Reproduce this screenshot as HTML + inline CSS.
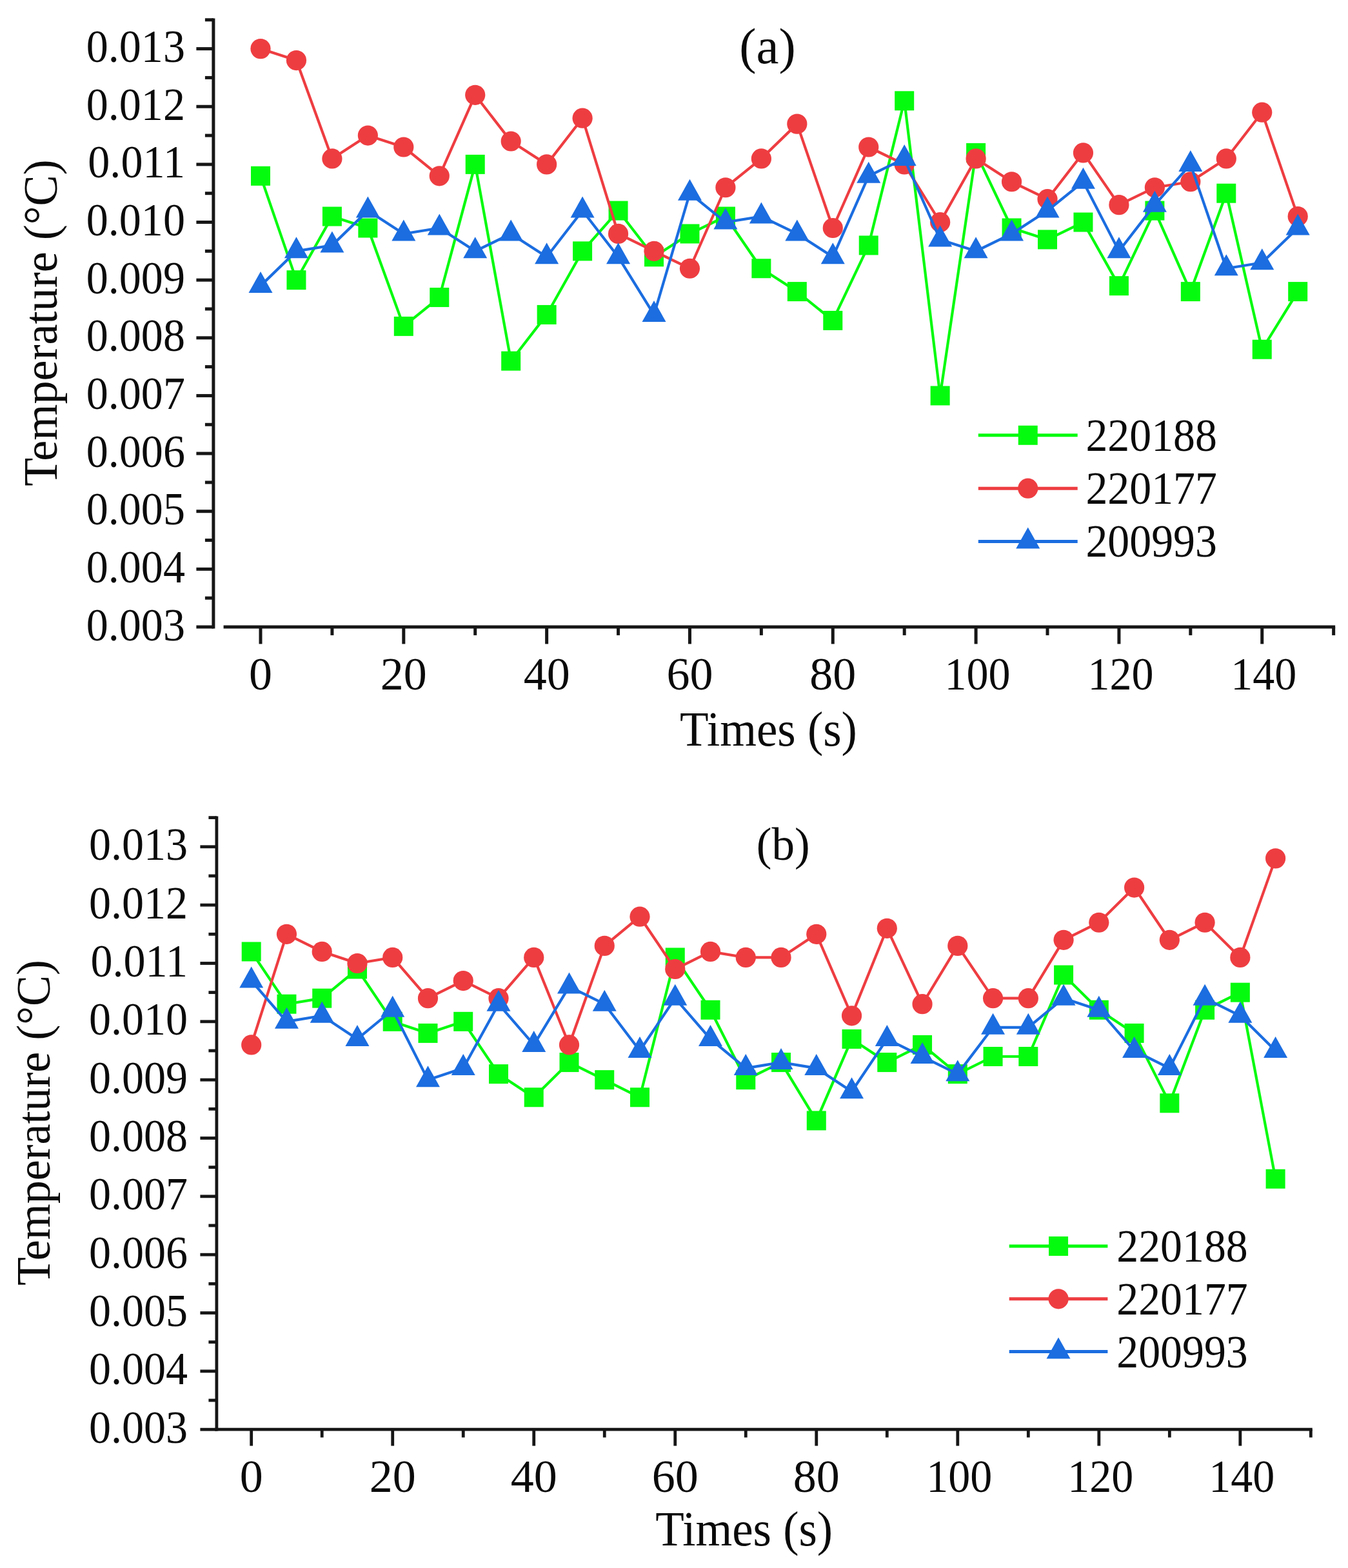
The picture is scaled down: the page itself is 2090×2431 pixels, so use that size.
<!DOCTYPE html>
<html><head><meta charset="utf-8"><title>Temperature vs Times</title>
<style>
html,body{margin:0;padding:0;background:#fff;}
body{width:2090px;height:2431px;overflow:hidden;}
svg{display:block;}

.t{font-family:'Liberation Serif', 'Times New Roman', serif;fill:#0a0a0a;}
</style></head>
<body>
<div id="w">
<svg width="2090" height="2431" viewBox="0 0 2090 2431">
<rect width="100%" height="100%" fill="#ffffff"/>
<g stroke="#161616" stroke-width="5.0" fill="none" stroke-linecap="butt">
<line x1="330.9" y1="28.5" x2="330.9" y2="974.4"/>
<line x1="346.6" y1="971.9" x2="2070.15" y2="971.9"/>
<line x1="304.4" y1="972" x2="330.9" y2="972"/>
<line x1="317.9" y1="927.18" x2="330.9" y2="927.18"/>
<line x1="304.4" y1="882.36" x2="330.9" y2="882.36"/>
<line x1="317.9" y1="837.54" x2="330.9" y2="837.54"/>
<line x1="304.4" y1="792.72" x2="330.9" y2="792.72"/>
<line x1="317.9" y1="747.9" x2="330.9" y2="747.9"/>
<line x1="304.4" y1="703.08" x2="330.9" y2="703.08"/>
<line x1="317.9" y1="658.26" x2="330.9" y2="658.26"/>
<line x1="304.4" y1="613.44" x2="330.9" y2="613.44"/>
<line x1="317.9" y1="568.62" x2="330.9" y2="568.62"/>
<line x1="304.4" y1="523.8" x2="330.9" y2="523.8"/>
<line x1="317.9" y1="478.98" x2="330.9" y2="478.98"/>
<line x1="304.4" y1="434.16" x2="330.9" y2="434.16"/>
<line x1="317.9" y1="389.34" x2="330.9" y2="389.34"/>
<line x1="304.4" y1="344.52" x2="330.9" y2="344.52"/>
<line x1="317.9" y1="299.7" x2="330.9" y2="299.7"/>
<line x1="304.4" y1="254.88" x2="330.9" y2="254.88"/>
<line x1="317.9" y1="210.06" x2="330.9" y2="210.06"/>
<line x1="304.4" y1="165.24" x2="330.9" y2="165.24"/>
<line x1="317.9" y1="120.42" x2="330.9" y2="120.42"/>
<line x1="304.4" y1="75.6" x2="330.9" y2="75.6"/>
<line x1="317.9" y1="30.78" x2="330.9" y2="30.78"/>
<line x1="404" y1="971.9" x2="404" y2="998.4"/>
<line x1="625.82" y1="971.9" x2="625.82" y2="998.4"/>
<line x1="847.64" y1="971.9" x2="847.64" y2="998.4"/>
<line x1="1069.46" y1="971.9" x2="1069.46" y2="998.4"/>
<line x1="1291.28" y1="971.9" x2="1291.28" y2="998.4"/>
<line x1="1513.1" y1="971.9" x2="1513.1" y2="998.4"/>
<line x1="1734.92" y1="971.9" x2="1734.92" y2="998.4"/>
<line x1="1956.74" y1="971.9" x2="1956.74" y2="998.4"/>
<line x1="514.91" y1="971.9" x2="514.91" y2="984.9"/>
<line x1="736.73" y1="971.9" x2="736.73" y2="984.9"/>
<line x1="958.55" y1="971.9" x2="958.55" y2="984.9"/>
<line x1="1180.37" y1="971.9" x2="1180.37" y2="984.9"/>
<line x1="1402.19" y1="971.9" x2="1402.19" y2="984.9"/>
<line x1="1624.01" y1="971.9" x2="1624.01" y2="984.9"/>
<line x1="1845.83" y1="971.9" x2="1845.83" y2="984.9"/>
<line x1="2067.65" y1="971.9" x2="2067.65" y2="984.9"/>
</g>
<polyline points="404,272.81 459.45,434.16 514.91,335.56 570.37,353.48 625.82,505.87 681.27,461.05 736.73,254.88 792.18,559.66 847.64,487.94 903.1,389.34 958.55,326.59 1014,398.3 1069.46,362.45 1124.91,335.56 1180.37,416.23 1235.82,452.09 1291.28,496.91 1346.73,380.38 1402.19,156.28 1457.64,613.44 1513.1,236.95 1568.55,353.48 1624.01,371.41 1679.46,344.52 1734.92,443.12 1790.38,326.59 1845.83,452.09 1901.28,299.7 1956.74,541.73 2012.19,452.09" fill="none" stroke="#05fb0e" stroke-width="4.2" stroke-linejoin="round"/>
<rect x="389" y="257.81" width="30" height="30" fill="#05fb0e"/>
<rect x="444.45" y="419.16" width="30" height="30" fill="#05fb0e"/>
<rect x="499.91" y="320.56" width="30" height="30" fill="#05fb0e"/>
<rect x="555.37" y="338.48" width="30" height="30" fill="#05fb0e"/>
<rect x="610.82" y="490.87" width="30" height="30" fill="#05fb0e"/>
<rect x="666.27" y="446.05" width="30" height="30" fill="#05fb0e"/>
<rect x="721.73" y="239.88" width="30" height="30" fill="#05fb0e"/>
<rect x="777.18" y="544.66" width="30" height="30" fill="#05fb0e"/>
<rect x="832.64" y="472.94" width="30" height="30" fill="#05fb0e"/>
<rect x="888.1" y="374.34" width="30" height="30" fill="#05fb0e"/>
<rect x="943.55" y="311.59" width="30" height="30" fill="#05fb0e"/>
<rect x="999" y="383.3" width="30" height="30" fill="#05fb0e"/>
<rect x="1054.46" y="347.45" width="30" height="30" fill="#05fb0e"/>
<rect x="1109.91" y="320.56" width="30" height="30" fill="#05fb0e"/>
<rect x="1165.37" y="401.23" width="30" height="30" fill="#05fb0e"/>
<rect x="1220.82" y="437.09" width="30" height="30" fill="#05fb0e"/>
<rect x="1276.28" y="481.91" width="30" height="30" fill="#05fb0e"/>
<rect x="1331.73" y="365.38" width="30" height="30" fill="#05fb0e"/>
<rect x="1387.19" y="141.28" width="30" height="30" fill="#05fb0e"/>
<rect x="1442.64" y="598.44" width="30" height="30" fill="#05fb0e"/>
<rect x="1498.1" y="221.95" width="30" height="30" fill="#05fb0e"/>
<rect x="1553.55" y="338.48" width="30" height="30" fill="#05fb0e"/>
<rect x="1609.01" y="356.41" width="30" height="30" fill="#05fb0e"/>
<rect x="1664.46" y="329.52" width="30" height="30" fill="#05fb0e"/>
<rect x="1719.92" y="428.12" width="30" height="30" fill="#05fb0e"/>
<rect x="1775.38" y="311.59" width="30" height="30" fill="#05fb0e"/>
<rect x="1830.83" y="437.09" width="30" height="30" fill="#05fb0e"/>
<rect x="1886.28" y="284.7" width="30" height="30" fill="#05fb0e"/>
<rect x="1941.74" y="526.73" width="30" height="30" fill="#05fb0e"/>
<rect x="1997.19" y="437.09" width="30" height="30" fill="#05fb0e"/>
<polyline points="404,75.6 459.45,93.53 514.91,245.92 570.37,210.06 625.82,227.99 681.27,272.81 736.73,147.31 792.18,219.02 847.64,254.88 903.1,183.17 958.55,362.45 1014,389.34 1069.46,416.23 1124.91,290.74 1180.37,245.92 1235.82,192.13 1291.28,353.48 1346.73,227.99 1402.19,254.88 1457.64,344.52 1513.1,245.92 1568.55,281.77 1624.01,308.66 1679.46,236.95 1734.92,317.63 1790.38,290.74 1845.83,281.77 1901.28,245.92 1956.74,174.2 2012.19,335.56" fill="none" stroke="#ee3d41" stroke-width="4.2" stroke-linejoin="round"/>
<circle cx="404" cy="75.6" r="15.6" fill="#ee3d41"/>
<circle cx="459.45" cy="93.53" r="15.6" fill="#ee3d41"/>
<circle cx="514.91" cy="245.92" r="15.6" fill="#ee3d41"/>
<circle cx="570.37" cy="210.06" r="15.6" fill="#ee3d41"/>
<circle cx="625.82" cy="227.99" r="15.6" fill="#ee3d41"/>
<circle cx="681.27" cy="272.81" r="15.6" fill="#ee3d41"/>
<circle cx="736.73" cy="147.31" r="15.6" fill="#ee3d41"/>
<circle cx="792.18" cy="219.02" r="15.6" fill="#ee3d41"/>
<circle cx="847.64" cy="254.88" r="15.6" fill="#ee3d41"/>
<circle cx="903.1" cy="183.17" r="15.6" fill="#ee3d41"/>
<circle cx="958.55" cy="362.45" r="15.6" fill="#ee3d41"/>
<circle cx="1014" cy="389.34" r="15.6" fill="#ee3d41"/>
<circle cx="1069.46" cy="416.23" r="15.6" fill="#ee3d41"/>
<circle cx="1124.91" cy="290.74" r="15.6" fill="#ee3d41"/>
<circle cx="1180.37" cy="245.92" r="15.6" fill="#ee3d41"/>
<circle cx="1235.82" cy="192.13" r="15.6" fill="#ee3d41"/>
<circle cx="1291.28" cy="353.48" r="15.6" fill="#ee3d41"/>
<circle cx="1346.73" cy="227.99" r="15.6" fill="#ee3d41"/>
<circle cx="1402.19" cy="254.88" r="15.6" fill="#ee3d41"/>
<circle cx="1457.64" cy="344.52" r="15.6" fill="#ee3d41"/>
<circle cx="1513.1" cy="245.92" r="15.6" fill="#ee3d41"/>
<circle cx="1568.55" cy="281.77" r="15.6" fill="#ee3d41"/>
<circle cx="1624.01" cy="308.66" r="15.6" fill="#ee3d41"/>
<circle cx="1679.46" cy="236.95" r="15.6" fill="#ee3d41"/>
<circle cx="1734.92" cy="317.63" r="15.6" fill="#ee3d41"/>
<circle cx="1790.38" cy="290.74" r="15.6" fill="#ee3d41"/>
<circle cx="1845.83" cy="281.77" r="15.6" fill="#ee3d41"/>
<circle cx="1901.28" cy="245.92" r="15.6" fill="#ee3d41"/>
<circle cx="1956.74" cy="174.2" r="15.6" fill="#ee3d41"/>
<circle cx="2012.19" cy="335.56" r="15.6" fill="#ee3d41"/>
<polyline points="404,443.12 459.45,389.34 514.91,380.38 570.37,326.59 625.82,362.45 681.27,353.48 736.73,389.34 792.18,362.45 847.64,398.3 903.1,326.59 958.55,398.3 1014,487.94 1069.46,299.7 1124.91,344.52 1180.37,335.56 1235.82,362.45 1291.28,398.3 1346.73,272.81 1402.19,245.92 1457.64,371.41 1513.1,389.34 1568.55,362.45 1624.01,326.59 1679.46,281.77 1734.92,389.34 1790.38,317.63 1845.83,254.88 1901.28,416.23 1956.74,407.27 2012.19,353.48" fill="none" stroke="#1b6de0" stroke-width="4.2" stroke-linejoin="round"/>
<polygon points="404,421.12 422.5,454.12 385.5,454.12" fill="#1b6de0"/>
<polygon points="459.45,367.34 477.95,400.34 440.95,400.34" fill="#1b6de0"/>
<polygon points="514.91,358.38 533.41,391.38 496.41,391.38" fill="#1b6de0"/>
<polygon points="570.37,304.59 588.87,337.59 551.87,337.59" fill="#1b6de0"/>
<polygon points="625.82,340.45 644.32,373.45 607.32,373.45" fill="#1b6de0"/>
<polygon points="681.27,331.48 699.77,364.48 662.77,364.48" fill="#1b6de0"/>
<polygon points="736.73,367.34 755.23,400.34 718.23,400.34" fill="#1b6de0"/>
<polygon points="792.18,340.45 810.68,373.45 773.68,373.45" fill="#1b6de0"/>
<polygon points="847.64,376.3 866.14,409.3 829.14,409.3" fill="#1b6de0"/>
<polygon points="903.1,304.59 921.6,337.59 884.6,337.59" fill="#1b6de0"/>
<polygon points="958.55,376.3 977.05,409.3 940.05,409.3" fill="#1b6de0"/>
<polygon points="1014,465.94 1032.51,498.94 995.5,498.94" fill="#1b6de0"/>
<polygon points="1069.46,277.7 1087.96,310.7 1050.96,310.7" fill="#1b6de0"/>
<polygon points="1124.91,322.52 1143.41,355.52 1106.41,355.52" fill="#1b6de0"/>
<polygon points="1180.37,313.56 1198.87,346.56 1161.87,346.56" fill="#1b6de0"/>
<polygon points="1235.82,340.45 1254.32,373.45 1217.32,373.45" fill="#1b6de0"/>
<polygon points="1291.28,376.3 1309.78,409.3 1272.78,409.3" fill="#1b6de0"/>
<polygon points="1346.73,250.81 1365.23,283.81 1328.23,283.81" fill="#1b6de0"/>
<polygon points="1402.19,223.92 1420.69,256.92 1383.69,256.92" fill="#1b6de0"/>
<polygon points="1457.64,349.41 1476.14,382.41 1439.14,382.41" fill="#1b6de0"/>
<polygon points="1513.1,367.34 1531.6,400.34 1494.6,400.34" fill="#1b6de0"/>
<polygon points="1568.55,340.45 1587.05,373.45 1550.05,373.45" fill="#1b6de0"/>
<polygon points="1624.01,304.59 1642.51,337.59 1605.51,337.59" fill="#1b6de0"/>
<polygon points="1679.46,259.77 1697.96,292.77 1660.96,292.77" fill="#1b6de0"/>
<polygon points="1734.92,367.34 1753.42,400.34 1716.42,400.34" fill="#1b6de0"/>
<polygon points="1790.38,295.63 1808.88,328.63 1771.88,328.63" fill="#1b6de0"/>
<polygon points="1845.83,232.88 1864.33,265.88 1827.33,265.88" fill="#1b6de0"/>
<polygon points="1901.28,394.23 1919.78,427.23 1882.78,427.23" fill="#1b6de0"/>
<polygon points="1956.74,385.27 1975.24,418.27 1938.24,418.27" fill="#1b6de0"/>
<polygon points="2012.19,331.48 2030.69,364.48 1993.69,364.48" fill="#1b6de0"/>
<line x1="1516.8" y1="674.8" x2="1670.7" y2="674.8" stroke="#05fb0e" stroke-width="5"/>
<rect x="1578.75" y="659.8" width="30" height="30" fill="#05fb0e"/>
<text transform="translate(1683.4 698.8) scale(0.942 1)" class="t" font-size="72">220188</text>
<line x1="1516.8" y1="757.2" x2="1670.7" y2="757.2" stroke="#ee3d41" stroke-width="5"/>
<circle cx="1593.75" cy="757.2" r="15.6" fill="#ee3d41"/>
<text transform="translate(1683.4 781.2) scale(0.942 1)" class="t" font-size="72">220177</text>
<line x1="1516.8" y1="839.4" x2="1670.7" y2="839.4" stroke="#1b6de0" stroke-width="5"/>
<polygon points="1593.75,817.4 1612.25,850.4 1575.25,850.4" fill="#1b6de0"/>
<text transform="translate(1683.4 863.4) scale(0.942 1)" class="t" font-size="72">200993</text>
<text transform="translate(286.9 992.6) scale(0.945 1)" class="t" font-size="72" text-anchor="end">0.003</text>
<text transform="translate(286.9 902.96) scale(0.945 1)" class="t" font-size="72" text-anchor="end">0.004</text>
<text transform="translate(286.9 813.32) scale(0.945 1)" class="t" font-size="72" text-anchor="end">0.005</text>
<text transform="translate(286.9 723.68) scale(0.945 1)" class="t" font-size="72" text-anchor="end">0.006</text>
<text transform="translate(286.9 634.04) scale(0.945 1)" class="t" font-size="72" text-anchor="end">0.007</text>
<text transform="translate(286.9 544.4) scale(0.945 1)" class="t" font-size="72" text-anchor="end">0.008</text>
<text transform="translate(286.9 454.76) scale(0.945 1)" class="t" font-size="72" text-anchor="end">0.009</text>
<text transform="translate(286.9 365.12) scale(0.945 1)" class="t" font-size="72" text-anchor="end">0.010</text>
<text transform="translate(286.9 275.48) scale(0.945 1)" class="t" font-size="72" text-anchor="end">0.011</text>
<text transform="translate(286.9 185.84) scale(0.945 1)" class="t" font-size="72" text-anchor="end">0.012</text>
<text transform="translate(286.9 96.2) scale(0.945 1)" class="t" font-size="72" text-anchor="end">0.013</text>
<text transform="translate(404 1068.9) scale(1.0 1)" class="t" font-size="72" text-anchor="middle">0</text>
<text transform="translate(625.82 1068.9) scale(1.0 1)" class="t" font-size="72" text-anchor="middle">20</text>
<text transform="translate(847.64 1068.9) scale(1.0 1)" class="t" font-size="72" text-anchor="middle">40</text>
<text transform="translate(1069.46 1068.9) scale(1.0 1)" class="t" font-size="72" text-anchor="middle">60</text>
<text transform="translate(1291.28 1068.9) scale(1.0 1)" class="t" font-size="72" text-anchor="middle">80</text>
<text transform="translate(1515.6 1068.9) scale(0.945 1)" class="t" font-size="72" text-anchor="middle">100</text>
<text transform="translate(1737.42 1068.9) scale(0.945 1)" class="t" font-size="72" text-anchor="middle">120</text>
<text transform="translate(1959.24 1068.9) scale(0.945 1)" class="t" font-size="72" text-anchor="middle">140</text>
<g stroke="#161616" stroke-width="4.8" fill="none" stroke-linecap="butt">
<line x1="335.9" y1="1265.5" x2="335.9" y2="2218.5"/>
<line x1="333.5" y1="2216.1" x2="2034.75" y2="2216.1"/>
<line x1="310.4" y1="2216.2" x2="335.9" y2="2216.2"/>
<line x1="323.4" y1="2171.03" x2="335.9" y2="2171.03"/>
<line x1="310.4" y1="2125.86" x2="335.9" y2="2125.86"/>
<line x1="323.4" y1="2080.69" x2="335.9" y2="2080.69"/>
<line x1="310.4" y1="2035.52" x2="335.9" y2="2035.52"/>
<line x1="323.4" y1="1990.35" x2="335.9" y2="1990.35"/>
<line x1="310.4" y1="1945.18" x2="335.9" y2="1945.18"/>
<line x1="323.4" y1="1900.01" x2="335.9" y2="1900.01"/>
<line x1="310.4" y1="1854.84" x2="335.9" y2="1854.84"/>
<line x1="323.4" y1="1809.67" x2="335.9" y2="1809.67"/>
<line x1="310.4" y1="1764.5" x2="335.9" y2="1764.5"/>
<line x1="323.4" y1="1719.33" x2="335.9" y2="1719.33"/>
<line x1="310.4" y1="1674.16" x2="335.9" y2="1674.16"/>
<line x1="323.4" y1="1628.99" x2="335.9" y2="1628.99"/>
<line x1="310.4" y1="1583.82" x2="335.9" y2="1583.82"/>
<line x1="323.4" y1="1538.65" x2="335.9" y2="1538.65"/>
<line x1="310.4" y1="1493.48" x2="335.9" y2="1493.48"/>
<line x1="323.4" y1="1448.31" x2="335.9" y2="1448.31"/>
<line x1="310.4" y1="1403.14" x2="335.9" y2="1403.14"/>
<line x1="323.4" y1="1357.97" x2="335.9" y2="1357.97"/>
<line x1="310.4" y1="1312.8" x2="335.9" y2="1312.8"/>
<line x1="323.4" y1="1267.63" x2="335.9" y2="1267.63"/>
<line x1="389.7" y1="2216.1" x2="389.7" y2="2241.6"/>
<line x1="608.72" y1="2216.1" x2="608.72" y2="2241.6"/>
<line x1="827.74" y1="2216.1" x2="827.74" y2="2241.6"/>
<line x1="1046.76" y1="2216.1" x2="1046.76" y2="2241.6"/>
<line x1="1265.78" y1="2216.1" x2="1265.78" y2="2241.6"/>
<line x1="1484.8" y1="2216.1" x2="1484.8" y2="2241.6"/>
<line x1="1703.82" y1="2216.1" x2="1703.82" y2="2241.6"/>
<line x1="1922.84" y1="2216.1" x2="1922.84" y2="2241.6"/>
<line x1="499.21" y1="2216.1" x2="499.21" y2="2228.6"/>
<line x1="718.23" y1="2216.1" x2="718.23" y2="2228.6"/>
<line x1="937.25" y1="2216.1" x2="937.25" y2="2228.6"/>
<line x1="1156.27" y1="2216.1" x2="1156.27" y2="2228.6"/>
<line x1="1375.29" y1="2216.1" x2="1375.29" y2="2228.6"/>
<line x1="1594.31" y1="2216.1" x2="1594.31" y2="2228.6"/>
<line x1="1813.33" y1="2216.1" x2="1813.33" y2="2228.6"/>
<line x1="2032.35" y1="2216.1" x2="2032.35" y2="2228.6"/>
</g>
<polyline points="389.7,1475.41 444.45,1556.72 499.21,1547.68 553.97,1502.51 608.72,1583.82 663.48,1601.89 718.23,1583.82 772.99,1665.13 827.74,1701.26 882.5,1647.06 937.25,1674.16 992.01,1701.26 1046.76,1484.45 1101.52,1565.75 1156.27,1674.16 1211.03,1647.06 1265.78,1737.4 1320.54,1610.92 1375.29,1647.06 1430.05,1619.96 1484.8,1665.13 1539.56,1638.02 1594.31,1638.02 1649.07,1511.55 1703.82,1565.75 1758.58,1601.89 1813.33,1710.3 1868.09,1565.75 1922.84,1538.65 1977.6,1827.74" fill="none" stroke="#05fb0e" stroke-width="4.2" stroke-linejoin="round"/>
<rect x="374.7" y="1460.41" width="30" height="30" fill="#05fb0e"/>
<rect x="429.45" y="1541.72" width="30" height="30" fill="#05fb0e"/>
<rect x="484.21" y="1532.68" width="30" height="30" fill="#05fb0e"/>
<rect x="538.97" y="1487.51" width="30" height="30" fill="#05fb0e"/>
<rect x="593.72" y="1568.82" width="30" height="30" fill="#05fb0e"/>
<rect x="648.48" y="1586.89" width="30" height="30" fill="#05fb0e"/>
<rect x="703.23" y="1568.82" width="30" height="30" fill="#05fb0e"/>
<rect x="757.99" y="1650.13" width="30" height="30" fill="#05fb0e"/>
<rect x="812.74" y="1686.26" width="30" height="30" fill="#05fb0e"/>
<rect x="867.5" y="1632.06" width="30" height="30" fill="#05fb0e"/>
<rect x="922.25" y="1659.16" width="30" height="30" fill="#05fb0e"/>
<rect x="977.01" y="1686.26" width="30" height="30" fill="#05fb0e"/>
<rect x="1031.76" y="1469.45" width="30" height="30" fill="#05fb0e"/>
<rect x="1086.52" y="1550.75" width="30" height="30" fill="#05fb0e"/>
<rect x="1141.27" y="1659.16" width="30" height="30" fill="#05fb0e"/>
<rect x="1196.03" y="1632.06" width="30" height="30" fill="#05fb0e"/>
<rect x="1250.78" y="1722.4" width="30" height="30" fill="#05fb0e"/>
<rect x="1305.54" y="1595.92" width="30" height="30" fill="#05fb0e"/>
<rect x="1360.29" y="1632.06" width="30" height="30" fill="#05fb0e"/>
<rect x="1415.05" y="1604.96" width="30" height="30" fill="#05fb0e"/>
<rect x="1469.8" y="1650.13" width="30" height="30" fill="#05fb0e"/>
<rect x="1524.56" y="1623.02" width="30" height="30" fill="#05fb0e"/>
<rect x="1579.31" y="1623.02" width="30" height="30" fill="#05fb0e"/>
<rect x="1634.07" y="1496.55" width="30" height="30" fill="#05fb0e"/>
<rect x="1688.82" y="1550.75" width="30" height="30" fill="#05fb0e"/>
<rect x="1743.58" y="1586.89" width="30" height="30" fill="#05fb0e"/>
<rect x="1798.33" y="1695.3" width="30" height="30" fill="#05fb0e"/>
<rect x="1853.09" y="1550.75" width="30" height="30" fill="#05fb0e"/>
<rect x="1907.84" y="1523.65" width="30" height="30" fill="#05fb0e"/>
<rect x="1962.6" y="1812.74" width="30" height="30" fill="#05fb0e"/>
<polyline points="389.7,1619.96 444.45,1448.31 499.21,1475.41 553.97,1493.48 608.72,1484.45 663.48,1547.68 718.23,1520.58 772.99,1547.68 827.74,1484.45 882.5,1619.96 937.25,1466.38 992.01,1421.21 1046.76,1502.51 1101.52,1475.41 1156.27,1484.45 1211.03,1484.45 1265.78,1448.31 1320.54,1574.79 1375.29,1439.28 1430.05,1556.72 1484.8,1466.38 1539.56,1547.68 1594.31,1547.68 1649.07,1457.34 1703.82,1430.24 1758.58,1376.04 1813.33,1457.34 1868.09,1430.24 1922.84,1484.45 1977.6,1330.87" fill="none" stroke="#ee3d41" stroke-width="4.2" stroke-linejoin="round"/>
<circle cx="389.7" cy="1619.96" r="15.6" fill="#ee3d41"/>
<circle cx="444.45" cy="1448.31" r="15.6" fill="#ee3d41"/>
<circle cx="499.21" cy="1475.41" r="15.6" fill="#ee3d41"/>
<circle cx="553.97" cy="1493.48" r="15.6" fill="#ee3d41"/>
<circle cx="608.72" cy="1484.45" r="15.6" fill="#ee3d41"/>
<circle cx="663.48" cy="1547.68" r="15.6" fill="#ee3d41"/>
<circle cx="718.23" cy="1520.58" r="15.6" fill="#ee3d41"/>
<circle cx="772.99" cy="1547.68" r="15.6" fill="#ee3d41"/>
<circle cx="827.74" cy="1484.45" r="15.6" fill="#ee3d41"/>
<circle cx="882.5" cy="1619.96" r="15.6" fill="#ee3d41"/>
<circle cx="937.25" cy="1466.38" r="15.6" fill="#ee3d41"/>
<circle cx="992.01" cy="1421.21" r="15.6" fill="#ee3d41"/>
<circle cx="1046.76" cy="1502.51" r="15.6" fill="#ee3d41"/>
<circle cx="1101.52" cy="1475.41" r="15.6" fill="#ee3d41"/>
<circle cx="1156.27" cy="1484.45" r="15.6" fill="#ee3d41"/>
<circle cx="1211.03" cy="1484.45" r="15.6" fill="#ee3d41"/>
<circle cx="1265.78" cy="1448.31" r="15.6" fill="#ee3d41"/>
<circle cx="1320.54" cy="1574.79" r="15.6" fill="#ee3d41"/>
<circle cx="1375.29" cy="1439.28" r="15.6" fill="#ee3d41"/>
<circle cx="1430.05" cy="1556.72" r="15.6" fill="#ee3d41"/>
<circle cx="1484.8" cy="1466.38" r="15.6" fill="#ee3d41"/>
<circle cx="1539.56" cy="1547.68" r="15.6" fill="#ee3d41"/>
<circle cx="1594.31" cy="1547.68" r="15.6" fill="#ee3d41"/>
<circle cx="1649.07" cy="1457.34" r="15.6" fill="#ee3d41"/>
<circle cx="1703.82" cy="1430.24" r="15.6" fill="#ee3d41"/>
<circle cx="1758.58" cy="1376.04" r="15.6" fill="#ee3d41"/>
<circle cx="1813.33" cy="1457.34" r="15.6" fill="#ee3d41"/>
<circle cx="1868.09" cy="1430.24" r="15.6" fill="#ee3d41"/>
<circle cx="1922.84" cy="1484.45" r="15.6" fill="#ee3d41"/>
<circle cx="1977.6" cy="1330.87" r="15.6" fill="#ee3d41"/>
<polyline points="389.7,1520.58 444.45,1583.82 499.21,1574.79 553.97,1610.92 608.72,1565.75 663.48,1674.16 718.23,1656.09 772.99,1556.72 827.74,1619.96 882.5,1529.62 937.25,1556.72 992.01,1628.99 1046.76,1547.68 1101.52,1610.92 1156.27,1656.09 1211.03,1647.06 1265.78,1656.09 1320.54,1692.23 1375.29,1610.92 1430.05,1638.02 1484.8,1665.13 1539.56,1592.85 1594.31,1592.85 1649.07,1547.68 1703.82,1565.75 1758.58,1628.99 1813.33,1656.09 1868.09,1547.68 1922.84,1574.79 1977.6,1628.99" fill="none" stroke="#1b6de0" stroke-width="4.2" stroke-linejoin="round"/>
<polygon points="389.7,1498.58 408.2,1531.58 371.2,1531.58" fill="#1b6de0"/>
<polygon points="444.45,1561.82 462.95,1594.82 425.95,1594.82" fill="#1b6de0"/>
<polygon points="499.21,1552.79 517.71,1585.79 480.71,1585.79" fill="#1b6de0"/>
<polygon points="553.97,1588.92 572.47,1621.92 535.47,1621.92" fill="#1b6de0"/>
<polygon points="608.72,1543.75 627.22,1576.75 590.22,1576.75" fill="#1b6de0"/>
<polygon points="663.48,1652.16 681.98,1685.16 644.98,1685.16" fill="#1b6de0"/>
<polygon points="718.23,1634.09 736.73,1667.09 699.73,1667.09" fill="#1b6de0"/>
<polygon points="772.99,1534.72 791.49,1567.72 754.49,1567.72" fill="#1b6de0"/>
<polygon points="827.74,1597.96 846.24,1630.96 809.24,1630.96" fill="#1b6de0"/>
<polygon points="882.5,1507.62 901,1540.62 864,1540.62" fill="#1b6de0"/>
<polygon points="937.25,1534.72 955.75,1567.72 918.75,1567.72" fill="#1b6de0"/>
<polygon points="992.01,1606.99 1010.51,1639.99 973.51,1639.99" fill="#1b6de0"/>
<polygon points="1046.76,1525.68 1065.26,1558.68 1028.26,1558.68" fill="#1b6de0"/>
<polygon points="1101.52,1588.92 1120.02,1621.92 1083.02,1621.92" fill="#1b6de0"/>
<polygon points="1156.27,1634.09 1174.77,1667.09 1137.77,1667.09" fill="#1b6de0"/>
<polygon points="1211.03,1625.06 1229.53,1658.06 1192.53,1658.06" fill="#1b6de0"/>
<polygon points="1265.78,1634.09 1284.28,1667.09 1247.28,1667.09" fill="#1b6de0"/>
<polygon points="1320.54,1670.23 1339.04,1703.23 1302.04,1703.23" fill="#1b6de0"/>
<polygon points="1375.29,1588.92 1393.79,1621.92 1356.79,1621.92" fill="#1b6de0"/>
<polygon points="1430.05,1616.02 1448.55,1649.02 1411.55,1649.02" fill="#1b6de0"/>
<polygon points="1484.8,1643.13 1503.3,1676.13 1466.3,1676.13" fill="#1b6de0"/>
<polygon points="1539.56,1570.85 1558.06,1603.85 1521.06,1603.85" fill="#1b6de0"/>
<polygon points="1594.31,1570.85 1612.81,1603.85 1575.81,1603.85" fill="#1b6de0"/>
<polygon points="1649.07,1525.68 1667.57,1558.68 1630.57,1558.68" fill="#1b6de0"/>
<polygon points="1703.82,1543.75 1722.32,1576.75 1685.32,1576.75" fill="#1b6de0"/>
<polygon points="1758.58,1606.99 1777.08,1639.99 1740.08,1639.99" fill="#1b6de0"/>
<polygon points="1813.33,1634.09 1831.83,1667.09 1794.83,1667.09" fill="#1b6de0"/>
<polygon points="1868.09,1525.68 1886.59,1558.68 1849.59,1558.68" fill="#1b6de0"/>
<polygon points="1922.84,1552.79 1941.34,1585.79 1904.34,1585.79" fill="#1b6de0"/>
<polygon points="1977.6,1606.99 1996.1,1639.99 1959.1,1639.99" fill="#1b6de0"/>
<line x1="1564.7" y1="1932" x2="1717.4" y2="1932" stroke="#05fb0e" stroke-width="5"/>
<rect x="1626.05" y="1917" width="30" height="30" fill="#05fb0e"/>
<text transform="translate(1731.3 1956) scale(0.942 1)" class="t" font-size="72">220188</text>
<line x1="1564.7" y1="2013.8" x2="1717.4" y2="2013.8" stroke="#ee3d41" stroke-width="5"/>
<circle cx="1641.05" cy="2013.8" r="15.6" fill="#ee3d41"/>
<text transform="translate(1731.3 2037.8) scale(0.942 1)" class="t" font-size="72">220177</text>
<line x1="1564.7" y1="2095.5" x2="1717.4" y2="2095.5" stroke="#1b6de0" stroke-width="5"/>
<polygon points="1641.05,2073.5 1659.55,2106.5 1622.55,2106.5" fill="#1b6de0"/>
<text transform="translate(1731.3 2119.5) scale(0.942 1)" class="t" font-size="72">200993</text>
<text transform="translate(291.1 2236.8) scale(0.945 1)" class="t" font-size="72" text-anchor="end">0.003</text>
<text transform="translate(291.1 2146.46) scale(0.945 1)" class="t" font-size="72" text-anchor="end">0.004</text>
<text transform="translate(291.1 2056.12) scale(0.945 1)" class="t" font-size="72" text-anchor="end">0.005</text>
<text transform="translate(291.1 1965.78) scale(0.945 1)" class="t" font-size="72" text-anchor="end">0.006</text>
<text transform="translate(291.1 1875.44) scale(0.945 1)" class="t" font-size="72" text-anchor="end">0.007</text>
<text transform="translate(291.1 1785.1) scale(0.945 1)" class="t" font-size="72" text-anchor="end">0.008</text>
<text transform="translate(291.1 1694.76) scale(0.945 1)" class="t" font-size="72" text-anchor="end">0.009</text>
<text transform="translate(291.1 1604.42) scale(0.945 1)" class="t" font-size="72" text-anchor="end">0.010</text>
<text transform="translate(291.1 1514.08) scale(0.945 1)" class="t" font-size="72" text-anchor="end">0.011</text>
<text transform="translate(291.1 1423.74) scale(0.945 1)" class="t" font-size="72" text-anchor="end">0.012</text>
<text transform="translate(291.1 1333.4) scale(0.945 1)" class="t" font-size="72" text-anchor="end">0.013</text>
<text transform="translate(389.7 2313.1) scale(1.0 1)" class="t" font-size="72" text-anchor="middle">0</text>
<text transform="translate(608.72 2313.1) scale(1.0 1)" class="t" font-size="72" text-anchor="middle">20</text>
<text transform="translate(827.74 2313.1) scale(1.0 1)" class="t" font-size="72" text-anchor="middle">40</text>
<text transform="translate(1046.76 2313.1) scale(1.0 1)" class="t" font-size="72" text-anchor="middle">60</text>
<text transform="translate(1265.78 2313.1) scale(1.0 1)" class="t" font-size="72" text-anchor="middle">80</text>
<text transform="translate(1487.3 2313.1) scale(0.945 1)" class="t" font-size="72" text-anchor="middle">100</text>
<text transform="translate(1706.32 2313.1) scale(0.945 1)" class="t" font-size="72" text-anchor="middle">120</text>
<text transform="translate(1925.34 2313.1) scale(0.945 1)" class="t" font-size="72" text-anchor="middle">140</text>
<text transform="translate(1190 97.6) scale(1.01 1)" class="t" font-size="78" text-anchor="middle">(a)</text>
<text x="1214.2" y="1333.2" class="t" font-size="71" text-anchor="middle">(b)</text>
<text transform="translate(1191.4 1156.4) scale(0.96 1)" class="t" font-size="76" text-anchor="middle">Times (s)</text>
<text transform="translate(1153.7 2395.6) scale(0.966 1)" class="t" font-size="75.5" text-anchor="middle">Times (s)</text>
<text transform="translate(87.8 500.5) rotate(-90) scale(0.975 1)" class="t" font-size="74" text-anchor="middle">Temperature (°C)</text>
<text transform="translate(76.8 1740.6) rotate(-90) scale(0.972 1)" class="t" font-size="74" text-anchor="middle">Temperature (°C)</text>
</svg>
</div>
</body></html>
